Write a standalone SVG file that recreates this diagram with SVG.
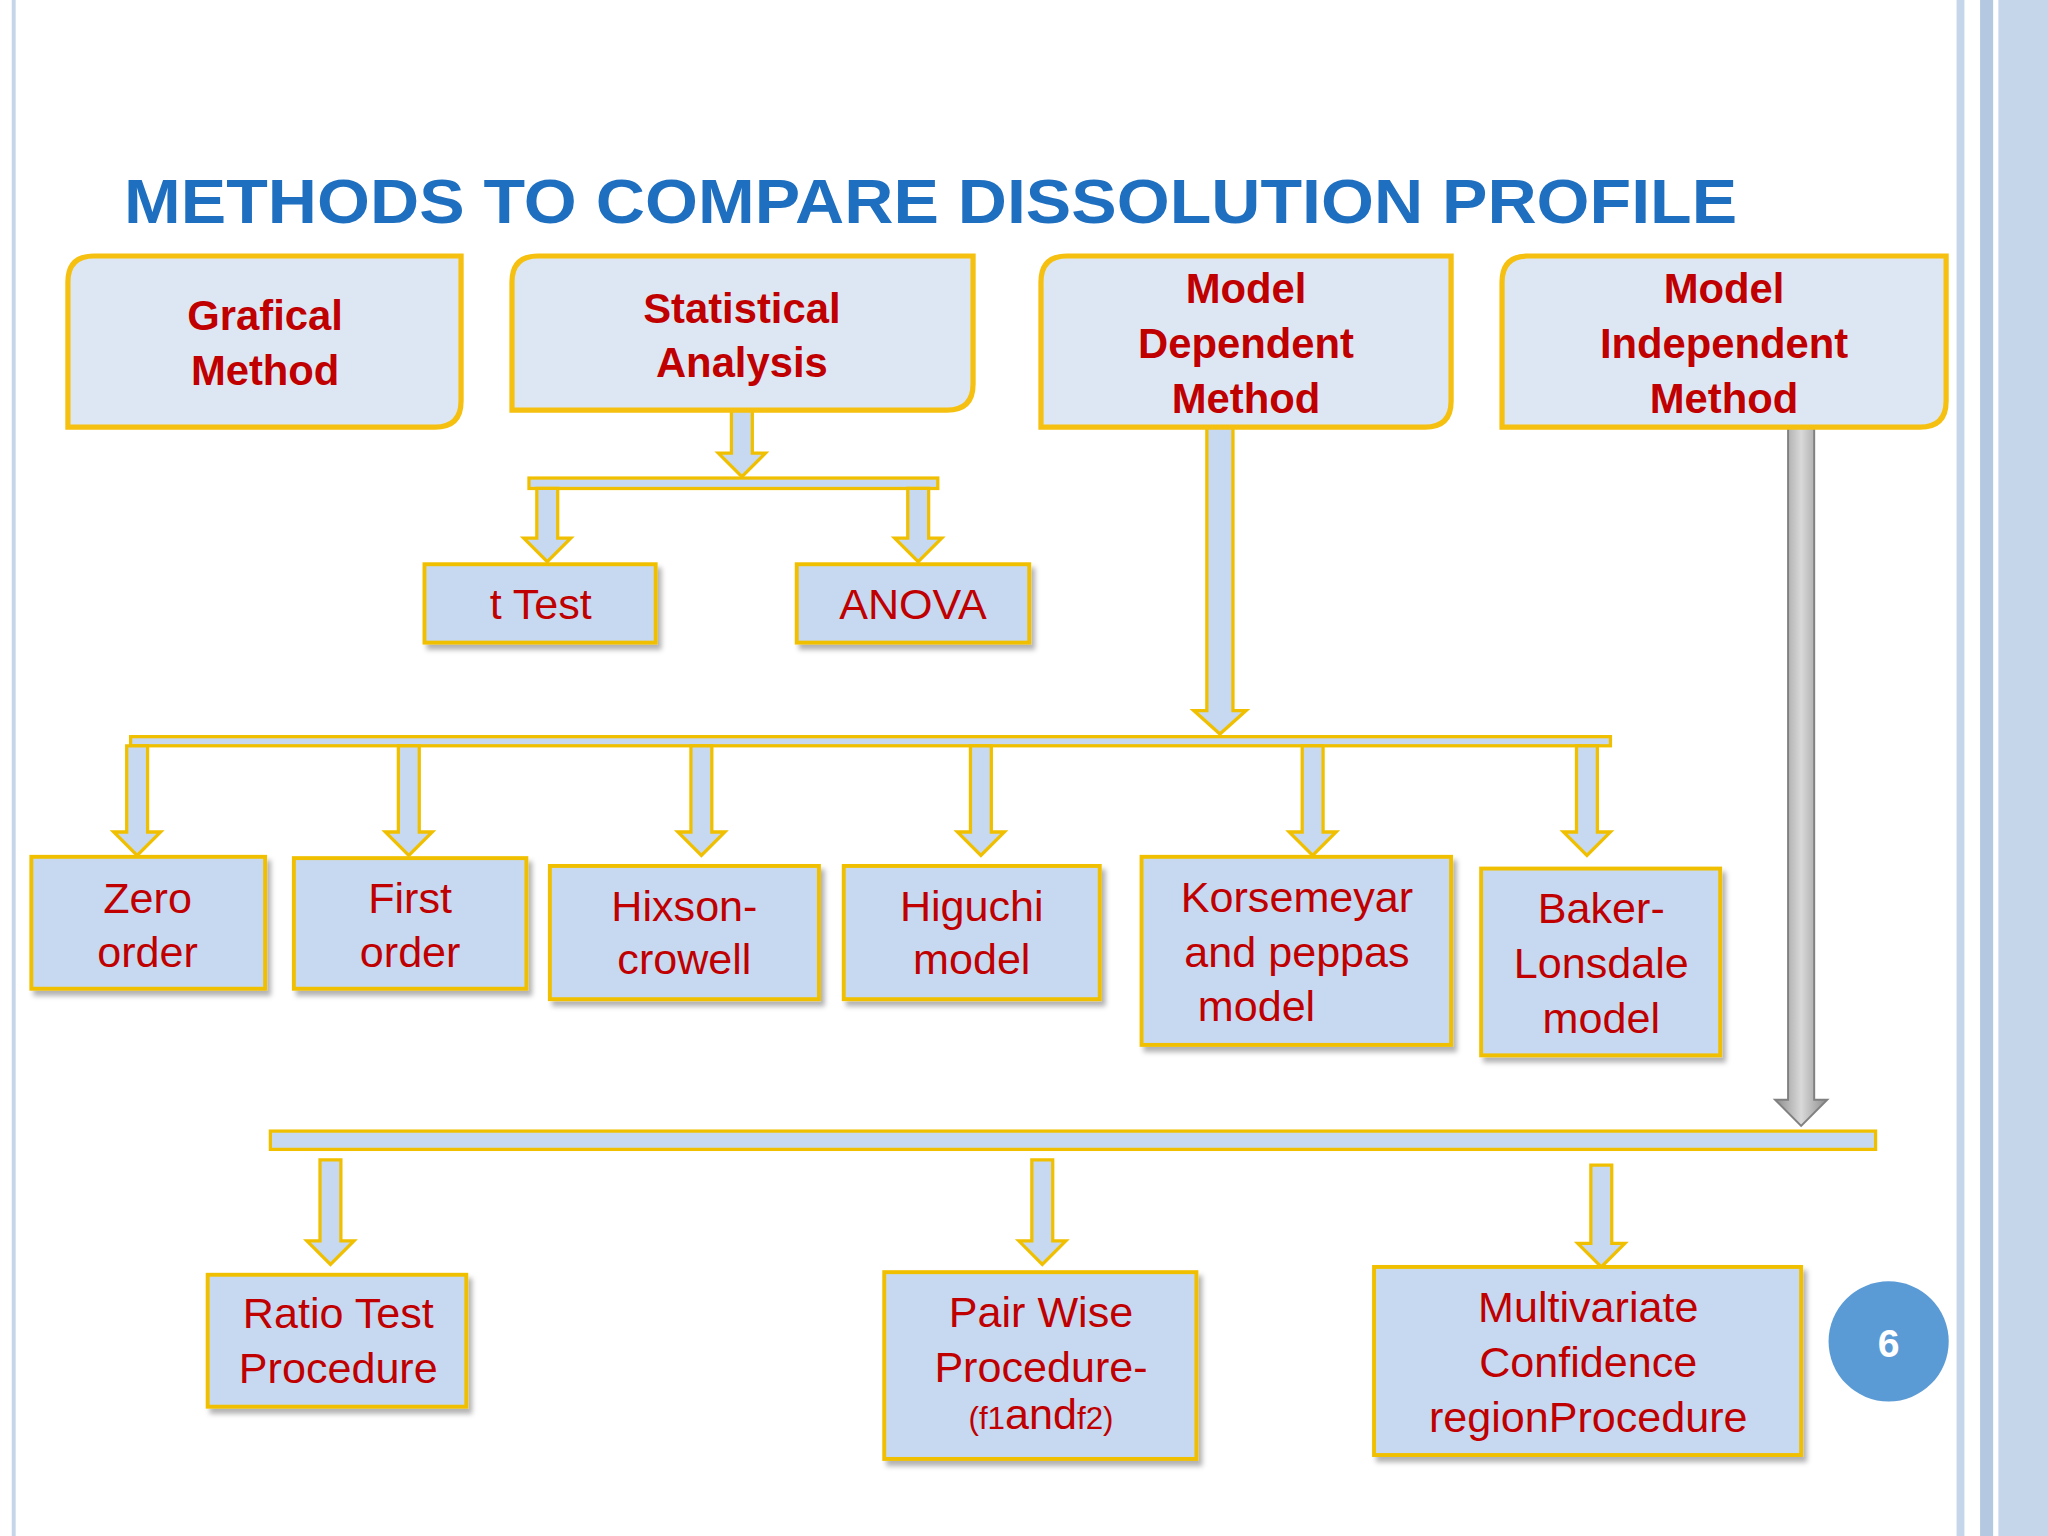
<svg xmlns="http://www.w3.org/2000/svg" width="2048" height="1536" viewBox="0 0 2048 1536">
<defs>
<style>
.top{fill:#dde7f3;stroke:#f5c010;stroke-width:4}
.box{fill:#c6d9f0;stroke:#f0c000;stroke-width:3;filter:url(#sh)}
.arr{fill:#c6d9f0;stroke:#f0c000;stroke-width:2.5}
.bar{fill:#c6d9f0;stroke:#f0c000;stroke-width:2.5}
.tt{font-family:"Liberation Sans",Arial,sans-serif;font-weight:bold;font-size:32px;fill:#c00000;text-anchor:middle}
.ct{font-family:"Liberation Sans",Arial,sans-serif;font-size:33px;fill:#c00000;text-anchor:middle}
</style>
<filter id="sh" x="-10%" y="-10%" width="130%" height="130%"><feDropShadow dx="3" dy="4" stdDeviation="2" flood-color="#000" flood-opacity="0.3"/></filter>
<linearGradient id="gg" x1="0" x2="1" y1="0" y2="0"><stop offset="0" stop-color="#8c8c8c"/><stop offset="0.5" stop-color="#d9d9d9"/><stop offset="1" stop-color="#8c8c8c"/></linearGradient>
</defs>
<rect width="2048" height="1536" fill="#fff"/>
<g transform="scale(1.30612)">
<g id="frame">
<rect x="9" y="0" width="3" height="1176" fill="#c6d6ea"/>
<rect x="1498" y="0" width="6" height="1176" fill="#c6d6ea"/>
<rect x="1516" y="0" width="10" height="1176" fill="#b4c8e2"/>
<rect x="1530" y="0" width="38" height="1176" fill="#c6d6ea"/>
</g>
<text id="title" x="95" y="171" font-family="Liberation Sans,Arial,sans-serif" font-weight="bold" font-size="48" fill="#1f6fc0" textLength="1235" lengthAdjust="spacingAndGlyphs">METHODS TO COMPARE DISSOLUTION PROFILE</text>
<g id="connectors">
<rect class="bar" x="405" y="366" width="313" height="8"/>
<rect class="bar" x="100" y="564" width="1133" height="7"/>
<rect class="bar" x="207" y="866" width="1229" height="14"/>
<path class="arr" d="M560 314H576V347H586L568 365L550 347H560Z"/>
<path class="arr" d="M411 374H427V412H437L419 430L401 412H411Z"/>
<path class="arr" d="M695 374H711V412H721L703 430L685 412H695Z"/>
<path class="arr" d="M924 327H944V544H954L934 562L914 544H924Z"/>
<path class="arr" d="M97 571H113V637H123L105 655L87 637H97Z"/>
<path class="arr" d="M305 571H321V637H331L313 655L295 637H305Z"/>
<path class="arr" d="M529 571H545V637H555L537 655L519 637H529Z"/>
<path class="arr" d="M743 571H759V637H769L751 655L733 637H743Z"/>
<path class="arr" d="M997 571H1013V637H1023L1005 655L987 637H997Z"/>
<path class="arr" d="M1207 571H1223V637H1233L1215 655L1197 637H1207Z"/>
<path d="M1369 327H1389V842H1399L1379 862L1359 842H1369Z" fill="url(#gg)" stroke="#808080" stroke-width="1.5"/>
<path class="arr" d="M245 888H261V950H271L253 968L235 950H245Z"/>
<path class="arr" d="M790 888H806V950H816L798 968L780 950H790Z"/>
<path class="arr" d="M1218 892H1234V952H1244L1226 970L1208 952H1218Z"/>
</g>
<g id="grafical"><path class="top" d="M72 196H353V307Q353 327 333 327H52V216Q52 196 72 196Z"/><text class="tt"><tspan x="203" y="253">Grafical</tspan><tspan x="203" y="295">Method</tspan></text></g>
<g id="statistical"><path class="top" d="M412 196H745V294Q745 314 725 314H392V216Q392 196 412 196Z"/><text class="tt"><tspan x="568" y="247">Statistical</tspan><tspan x="568" y="289">Analysis</tspan></text></g>
<g id="modeldep"><path class="top" d="M817 196H1111V307Q1111 327 1091 327H797V216Q797 196 817 196Z"/><text class="tt"><tspan x="954" y="232">Model</tspan><tspan x="954" y="274">Dependent</tspan><tspan x="954" y="316">Method</tspan></text></g>
<g id="modelindep"><path class="top" d="M1170 196H1490V307Q1490 327 1470 327H1150V216Q1150 196 1170 196Z"/><text class="tt"><tspan x="1320" y="232">Model</tspan><tspan x="1320" y="274">Independent</tspan><tspan x="1320" y="316">Method</tspan></text></g>
<g id="ttest"><rect class="box" x="325" y="432" width="177" height="60"/><text class="ct" x="414" y="474">t Test</text></g>
<g id="anova"><rect class="box" x="610" y="432" width="178" height="60"/><text class="ct" x="699" y="474">ANOVA</text></g>
<g id="zero"><rect class="box" x="24" y="656" width="179" height="101"/><text class="ct"><tspan x="113" y="699">Zero</tspan><tspan x="113" y="740">order</tspan></text></g>
<g id="first"><rect class="box" x="225" y="657" width="178" height="100"/><text class="ct"><tspan x="314" y="699">First</tspan><tspan x="314" y="740">order</tspan></text></g>
<g id="hixson"><rect class="box" x="421" y="663" width="206" height="102"/><text class="ct"><tspan x="524" y="705">Hixson-</tspan><tspan x="524" y="746">crowell</tspan></text></g>
<g id="higuchi"><rect class="box" x="646" y="663" width="196" height="102"/><text class="ct"><tspan x="744" y="705">Higuchi</tspan><tspan x="744" y="746">model</tspan></text></g>
<g id="korse"><rect class="box" x="874" y="656" width="237" height="144"/><text class="ct"><tspan x="993" y="698">Korsemeyar</tspan><tspan x="993" y="740">and peppas</tspan><tspan x="962" y="782">model</tspan></text></g>
<g id="baker"><rect class="box" x="1134" y="665" width="183" height="143"/><text class="ct"><tspan x="1226" y="707">Baker-</tspan><tspan x="1226" y="749">Lonsdale</tspan><tspan x="1226" y="791">model</tspan></text></g>
<g id="ratio"><rect class="box" x="159" y="976" width="198" height="101"/><text class="ct"><tspan x="259" y="1017">Ratio Test</tspan><tspan x="259" y="1059">Procedure</tspan></text></g>
<g id="pair"><rect class="box" x="677" y="974" width="239" height="143"/><text class="ct"><tspan x="797" y="1016">Pair Wise</tspan><tspan x="797" y="1058">Procedure-</tspan><tspan x="797" y="1094"><tspan font-size="24">(f1</tspan>and<tspan font-size="24">f2)</tspan></tspan></text></g>
<g id="multi"><rect class="box" x="1052" y="970" width="327" height="144"/><text class="ct"><tspan x="1216" y="1012">Multivariate</tspan><tspan x="1216" y="1054">Confidence</tspan><tspan x="1216" y="1096">regionProcedure</tspan></text></g>
<g id="page"><circle cx="1446" cy="1027" r="46" fill="#5b9bd5"/><text x="1446" y="1039" font-family="Liberation Sans,Arial,sans-serif" font-weight="bold" font-size="30" fill="#fff" text-anchor="middle">6</text></g>
</g>
</svg>
